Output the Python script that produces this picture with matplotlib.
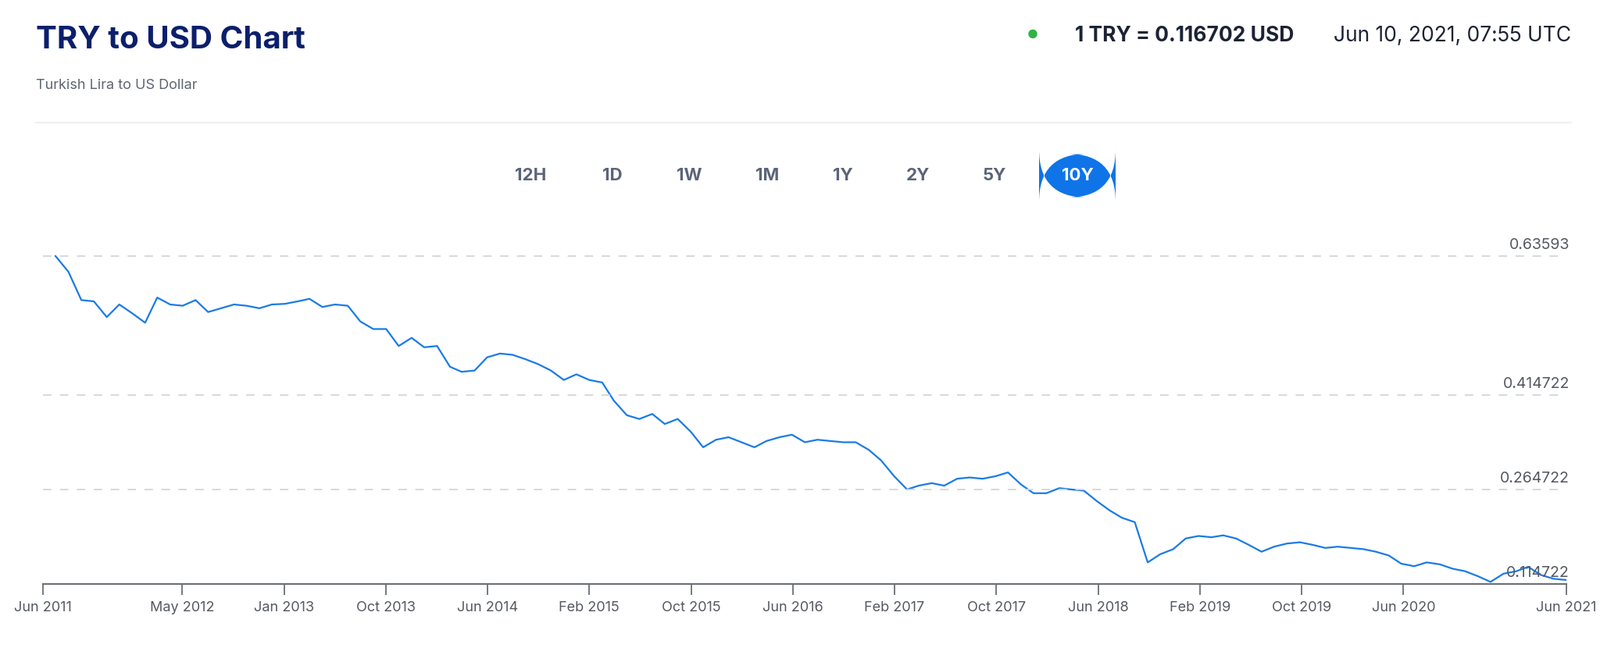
import numpy as np
import pandas as pd
import matplotlib
matplotlib.use("Agg")
from matplotlib import pyplot as plt
from matplotlib.patches import FancyBboxPatch

plt.rcParams["font.family"] = "Inter"

# monthly readings, Jun 2011 .. Jun 2021
dates = pd.date_range("2011-06-10", periods=121, freq="MS") + pd.Timedelta(days=9)
rates = [
    0.636, 0.611, 0.566, 0.564, 0.539, 0.559, 0.545, 0.530, 0.570, 0.559,
    0.557, 0.566, 0.547, 0.553, 0.559, 0.557, 0.553, 0.559, 0.560, 0.564,
    0.568, 0.555, 0.559, 0.557, 0.532, 0.520, 0.520, 0.493, 0.506, 0.491,
    0.493, 0.460, 0.452, 0.454, 0.475, 0.481, 0.479, 0.472, 0.464, 0.454,
    0.439, 0.448, 0.439, 0.435, 0.406, 0.383, 0.377, 0.385, 0.369, 0.377,
    0.357, 0.332, 0.344, 0.348, 0.340, 0.332, 0.342, 0.348, 0.352, 0.340,
    0.344, 0.342, 0.340, 0.340, 0.328, 0.311, 0.286, 0.265, 0.271, 0.275,
    0.271, 0.282, 0.284, 0.282, 0.286, 0.292, 0.273, 0.259, 0.259, 0.267,
    0.265, 0.263, 0.247, 0.232, 0.220, 0.213, 0.149, 0.162, 0.170, 0.187,
    0.191, 0.189, 0.192, 0.187, 0.177, 0.166, 0.174, 0.179, 0.181, 0.177,
    0.172, 0.174, 0.172, 0.170, 0.166, 0.160, 0.147, 0.143, 0.149, 0.146,
    0.139, 0.135, 0.127, 0.118, 0.131, 0.135, 0.142, 0.129, 0.123, 0.121,
    0.1167,
]
ytick_vals = [0.63593, 0.414722, 0.264722, 0.114722]
ytick_labels = ["0.63593", "0.414722", "0.264722", "0.114722"]
xtick_dates = ["2011-06-10", "2012-05-08", "2013-01-08", "2013-09-09", "2014-05-11",
               "2015-01-10", "2015-09-11", "2016-05-12", "2017-01-11", "2017-09-12",
               "2018-05-14", "2019-01-13", "2019-09-14", "2020-05-15", "2021-06-10"]
xtick_labels = ["Jun 2011", "May 2012", "Jan 2013", "Oct 2013", "Jun 2014", "Feb 2015",
                "Oct 2015", "Jun 2016", "Feb 2017", "Oct 2017", "Jun 2018", "Feb 2019",
                "Oct 2019", "Jun 2020", "Jun 2021"]
ranges = ["12H", "1D", "1W", "1M", "1Y", "2Y", "5Y", "10Y"]

W, H = 2048, 830
fig = plt.figure(figsize=(W / 100, H / 100), dpi=100)
fig.patch.set_facecolor("white")

# header
fig.text(46 / W, 1 - 52 / H, "TRY to USD Chart", fontsize=29, fontweight="bold",
         color="#0b1f6b", va="center")
fig.text(46 / W, 1 - 110 / H, "Turkish Lira to US Dollar", fontsize=13, color="#5f6672", va="center")
fig.text(2011 / W, 1 - 46 / H, "Jun 10, 2021, 07:55 UTC", fontsize=19, color="#1c2333",
         ha="right", va="center")
fig.text(1656 / W, 1 - 46 / H, "1 TRY = 0.116702 USD", fontsize=19, fontweight="bold",
         color="#1c2333", ha="right", va="center")
fig.text(1322 / W, 1 - 44 / H, "●", fontsize=11, color="#2fb344", ha="center", va="center")
fig.add_artist(plt.Line2D([46 / W, 2011 / W], [1 - 157 / H] * 2, color="#eef0f3", lw=1.5))

# range buttons
btn_x = [679, 784, 882, 982, 1079, 1175, 1273, 1379]
fig.add_artist(FancyBboxPatch((1330 / W, 1 - 253 / H), 98 / W, 56 / H,
                              boxstyle="round,pad=0,rounding_size=0.03",
                              mutation_aspect=W / H, transform=fig.transFigure,
                              facecolor="#0e74e8", edgecolor="none"))
for lbl, bx in zip(ranges, btn_x):
    fig.text(bx / W, 1 - 225 / H, lbl, fontsize=16, fontweight="bold", ha="center", va="center",
             color="white" if lbl == "10Y" else "#5b6478")

ax = fig.add_axes([55 / W, 1 - 748 / H, 1950 / W, 448 / H])
ax.plot(dates, rates, color="#1a7be6", lw=1.6)
ax.set_xlim(pd.Timestamp("2011-06-10"), pd.Timestamp("2021-06-10"))
ax.set_ylim(0.1147, 0.6707)

for v, lbl in zip(ytick_vals, ytick_labels):
    if v > 0.12:
        ax.axhline(v, color="#d4d6da", lw=1.3, dashes=(6, 6))
    ax.text(1.002, v + 0.006, lbl, transform=ax.get_yaxis_transform(), ha="right", va="bottom",
            fontsize=14, color="#555a62")

ax.set_xticks(pd.to_datetime(xtick_dates))
ax.set_xticklabels(xtick_labels, fontsize=13, color="#555a62")
ax.tick_params(axis="x", length=10, width=1.3, color="#6b6f75", pad=6)
ax.set_yticks([])
for s in ["top", "right", "left"]:
    ax.spines[s].set_visible(False)
ax.spines["bottom"].set_color("#6b6f75")
ax.spines["bottom"].set_linewidth(1.5)

fig.savefig("out.png", dpi=100)
